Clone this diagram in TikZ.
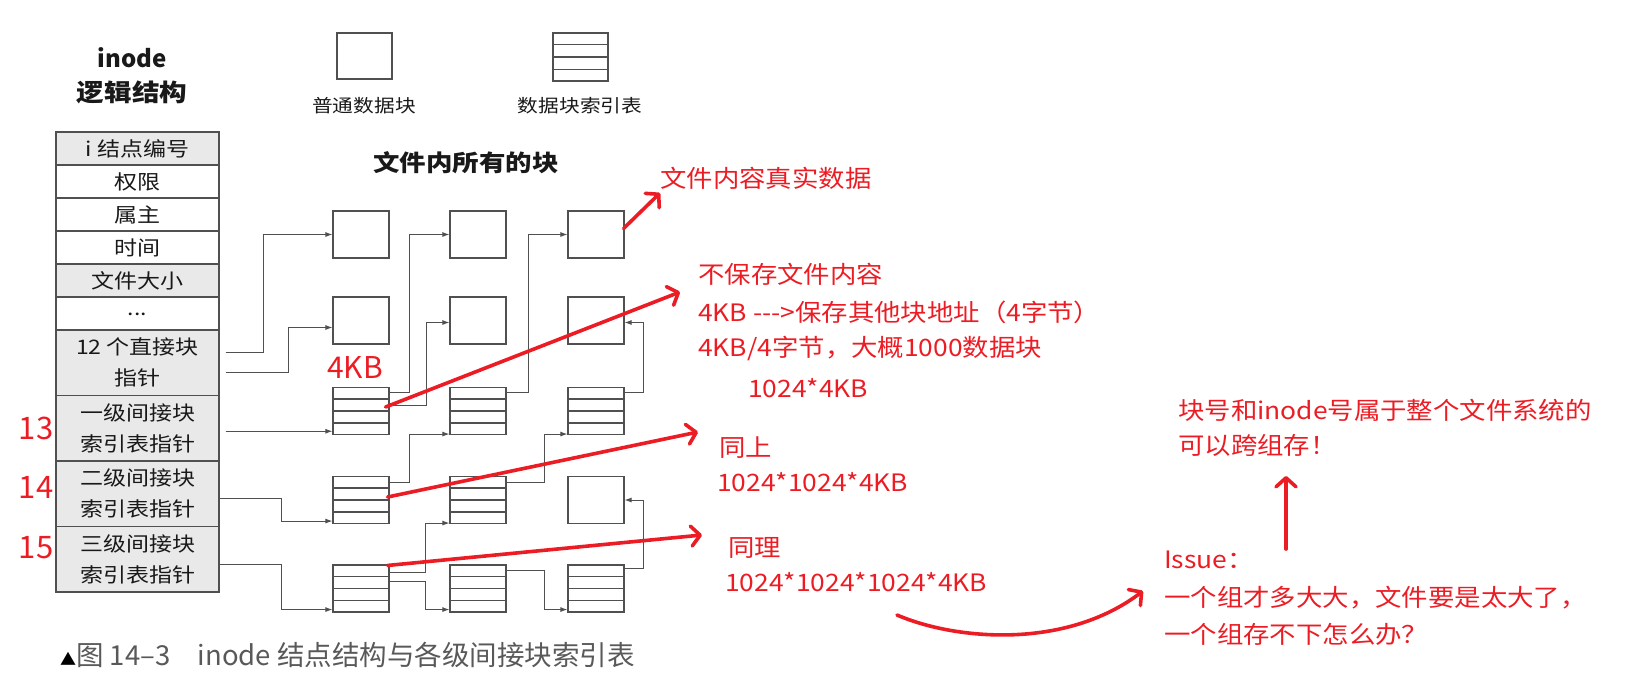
\documentclass[tikz,border=0pt]{standalone}
\usepackage{fontspec}
\setmainfont{Noto Sans CJK SC}
\newfontfamily\figfont[FakeStretch=1.15]{Noto Sans CJK SC}
\newfontfamily\handfont[FakeStretch=1.1]{Noto Sans CJK SC}
\usepackage{xcolor}
\usepackage{tikz}
\usetikzlibrary{arrows.meta, calc}

\definecolor{inkred}{RGB}{236,28,36}
\definecolor{cellgray}{RGB}{233,233,233}
\definecolor{linegray}{RGB}{80,80,80}

\begin{document}
\begin{tikzpicture}[
  x=1pt, y=-1pt,
  >={Latex[length=7pt,width=5pt]},
  blk/.style={draw=linegray, line width=1.1pt, minimum width=56pt, minimum height=47pt, inner sep=0pt},
  cell/.style={draw=linegray, line width=1.1pt, fill=white, minimum width=163pt, minimum height=33pt,
    inner sep=0pt, align=center, text=black!90, font=\figfont\fontsize{20}{31}\selectfont},
  cellg/.style={cell, fill=cellgray},
  tall/.style={minimum height=65.5pt},
  link/.style={draw=linegray, line width=1pt, ->},
  hand/.style={inkred, line width=3.6pt, line cap=round, -{Straight Barb[length=9pt,width=20pt,round]}},
  note/.style={text=inkred, anchor=west, inner sep=0pt, font=\handfont\fontsize{24}{24}\selectfont},
  lab/.style={inner sep=0pt, text=black!90},
]
\useasboundingbox (0,0) rectangle (1635,675);

% lines of an index table
\newcommand{\tbllines}[1]{%
  \foreach \k in {1,2,3}
    \draw[draw=linegray, line width=1.1pt]
      ($(#1.north west)!\k/4!(#1.south west)$) -- ($(#1.north east)!\k/4!(#1.south east)$);
}

% --- inode logical structure ---
\node[lab, font=\bfseries\fontsize{24}{24}\selectfont] (ititle) at (132,58) {inode};
\node[lab, font=\bfseries\figfont\fontsize{24}{24}\selectfont] (ititle2) at (132,92) {逻辑结构};

\node[cellg] (inum)  at (137.5,148.5) {i 结点编号};
\node[cell]  (perm)  at (137.5,181.5) {权限};
\node[cell]  (owner) at (137.5,214.5) {属主};
\node[cell]  (time)  at (137.5,247.5) {时间};
\node[cellg] (size)  at (137.5,280.5) {文件大小};
\node[cell]  (dots)  at (137.5,313.5) {\raisebox{-4pt}{...}};
\node[cellg, tall] (direct) at (137.5,362.75) {12 个直接块\\指针};
\node[cellg, tall] (lvl1)   at (137.5,428.25) {一级间接块\\索引表指针};
\node[cellg, tall] (lvl2)   at (137.5,493.75) {二级间接块\\索引表指针};
\node[cellg, tall] (lvl3)   at (137.5,559.25) {三级间接块\\索引表指针};

\node[text=inkred, font=\fontsize{31}{31}\selectfont] (n13) at (36,428) {13};
\node[text=inkred, font=\fontsize{31}{31}\selectfont] (n14) at (36,487) {14};
\node[text=inkred, font=\fontsize{31}{31}\selectfont] (n15) at (36,548) {15};

% --- legend ---
\node[blk, minimum width=55pt, minimum height=46pt] (keyd) at (364.5,56) {};
\node[blk, minimum width=55pt, minimum height=48pt] (keyt) at (580.5,57) {};
\tbllines{keyt}
\node[lab, font=\figfont\fontsize{18}{18}\selectfont] (keydl) at (364,106) {普通数据块};
\node[lab, font=\figfont\fontsize{18}{18}\selectfont] (keytl) at (580,106) {数据块索引表};
\node[lab, font=\bfseries\figfont\fontsize{23}{23}\selectfont] (alltitle) at (466,163) {文件内所有的块};

% --- all blocks of the file ---
\node[blk] (d11) at (361,234.5) {};
\node[blk] (d12) at (478,234.5) {};
\node[blk] (d13) at (596,234.5) {};
\node[blk] (d21) at (361,320.5) {};
\node[blk] (d22) at (478,320.5) {};
\node[blk] (d23) at (596,320.5) {};
\node[blk] (t31) at (361,411) {};
\node[blk] (t32) at (478,411) {};
\node[blk] (t33) at (596,411) {};
\node[blk] (t41) at (361,500) {};
\node[blk] (t42) at (478,500) {};
\node[blk] (d43) at (596,500) {};
\node[blk] (t51) at (361,588.5) {};
\node[blk] (t52) at (478,588.5) {};
\node[blk] (t53) at (596,588.5) {};
\foreach \t in {t31,t32,t33,t41,t42,t51,t52,t53} {\tbllines{\t}}

% pointers out of the inode
\draw[link] ($(direct.east)+(6,-10)$) -- ++(38,0) |- (d11.west);
\draw[link] ($(direct.east)+(6,10)$) -- ++(63,0) |- ($(d21.west)+(0,7)$);
\draw[link] ($(lvl1.east)+(6,3)$) coordinate (l1s) -- (l1s -| t31.west);
\draw[link] ($(lvl2.east)+(0,5)$) -- ++(62,0) |- ($(t41.south west)+(0,-3)$);
\draw[link] ($(lvl3.east)+(0,5)$) -- ++(62,0) |- ($(t51.south west)+(0,-3)$);

% pointers between blocks
\draw[link] ($(t31.north east)+(0,6)$) -- ++(20,0) |- (d12.west);
\draw[link] ($(t31.north east)+(0,19)$) -- ++(37,0) |- ($(d22.west)+(0,2)$);
\draw[link] ($(t32.north east)+(0,6)$) -- ++(22,0) |- (d13.west);
\draw[link] ($(t33.north east)+(0,6)$) -- ++(19,0) |- ($(d23.east)+(0,2)$);
\draw[link] ($(t41.north east)+(0,7)$) -- ++(20,0) |- ($(t32.south west)+(0,-1)$);
\draw[link] ($(t42.north east)+(0,7)$) -- ++(38,0) |- ($(t33.south west)+(0,-1)$);
\draw[link] ($(t51.north east)+(0,8)$) -- ++(36,0) |- ($(t42.south west)+(0,-1)$);
\draw[link] ($(t51.north east)+(0,17)$) -- ++(36,0) |- ($(t52.south west)+(0,-3)$);
\draw[link] ($(t52.north east)+(0,6)$) -- ++(38,0) |- ($(t53.south west)+(0,-3)$);
\draw[link] ($(t53.north east)+(0,4)$) -- ++(19,0) |- (d43.east);

\node[text=inkred, inner sep=0pt, font=\fontsize{30}{30}\selectfont] (kb) at (355,367) {4KB};

% --- caption ---
\node[lab, anchor=west, text=black!65, font=\fontsize{27.5}{27.5}\selectfont] (cap) at (60,655)
  {{\color{black}\fontsize{16}{16}\selectfont ▲}图 14–3\quad inode 结点结构与各级间接块索引表};

% --- red notes ---
\node[note] (real) at (660,178) {文件内容真实数据};
\node[note] (nosave) at (698,274) {不保存文件内容};
\node[note] (addr) at (698,312) {4KB --->保存其他块地址（4字节）};
\node[note] (about) at (698,348) {4KB/4字节，大概1000数据块};
\node[note] (size1) at (748,388) {1024*4KB};
\node[note] (same1) at (719,448) {同上};
\node[note] (size2) at (717,482) {1024*1024*4KB};
\node[note] (same2) at (728,548) {同理};
\node[note] (size3) at (725,582) {1024*1024*1024*4KB};
\node[note] (global) at (1178,410) {块号和inode号属于整个文件系统的};
\node[note] (cross) at (1178,445) {可以跨组存！};
\node[note] (issue) at (1164,560) {Issue：};
\node[note] (issue2) at (1164,598) {一个组才多大大，文件要是太大了，};
\node[note] (issue3) at (1164,634) {一个组存不下怎么办？};

\coordinate (h1) at (660,193);
\coordinate (h2) at (680,292);
\coordinate (h3) at (698,432);
\coordinate (h4) at (702,535);
\coordinate (c0) at (897,615);
\coordinate (h5) at (1143,591);
\coordinate (v0) at (1286,549);
\coordinate (h6) at (1286,476);

\draw[hand] ($(d13.east)+(-1,-6)$) -- (h1);
\draw[hand] ($(t31.east)+(-4,-4)$) -- (h2);
\draw[hand] ($(t41.east)+(-2,-3)$) -- (h3);
\draw[hand] ($(t51.north east)+(-2,1)$) -- (h4);
\draw[hand] (c0) .. controls (955,640) and (1065,650) .. (h5);
\draw[hand] (v0) -- (h6);

\end{tikzpicture}
\end{document}
